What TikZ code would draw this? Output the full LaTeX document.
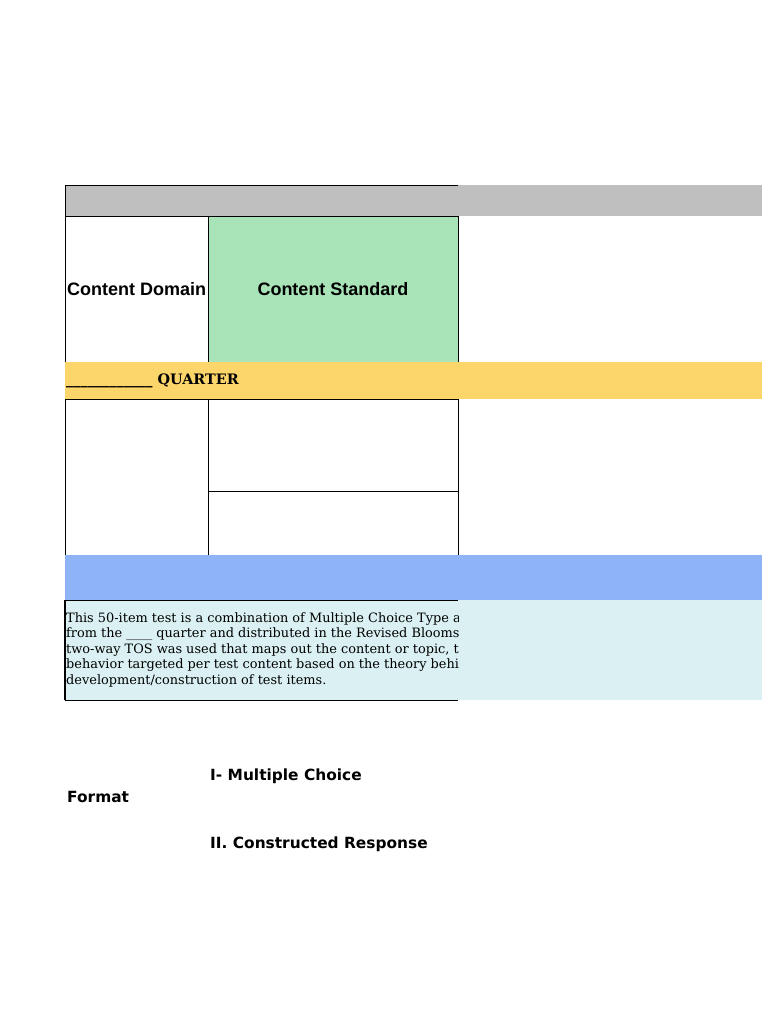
\documentclass[tikz,border=0pt]{standalone}
\usepackage{fontspec}
\setmainfont{DejaVu Serif}
\newfontfamily\arialf{Liberation Sans}
\newfontfamily\dvsans{DejaVu Sans}
\begin{document}
\begin{tikzpicture}[x=1pt,y=-1pt,
  cell/.style={draw=black,line width=0.8pt},
  lbl/.style={anchor=west,inner sep=0pt}]
\useasboundingbox (0,0) rectangle (768,1024);
\fill[white] (0,0) rectangle (768,1024);
\fill[gray!50] (65,185) rectangle (762,216);
\draw[black,line width=0.8pt] (458,185) -- (65,185) -- (65,216);
\fill[fill={rgb,255:red,168;green,228;blue,184}] (208,216) rectangle (458,362);
\draw[cell] (65,216) rectangle (208,362);
\draw[cell] (208,216) rectangle (458,362);
\node[lbl,font=\arialf\bfseries\fontsize{18}{20}\selectfont] (cd) at (67,289) {Content Domain};
\node[font=\arialf\bfseries\fontsize{18}{20}\selectfont] (cs) at (333,289) {Content Standard};
\fill[fill={rgb,255:red,252;green,213;blue,107}] (65,362) rectangle (762,399);
\node[lbl,font=\bfseries\fontsize{14.4}{16}\selectfont] (q) at (66,381) {\_\_\_\_\_\_\_\_\_\_\_\_ QUARTER};
\draw[cell] (65,399) rectangle (208,555);
\draw[cell] (208,399) rectangle (458,491);
\draw[cell] (208,491) rectangle (458,555);
\fill[fill={rgb,255:red,142;green,180;blue,247}] (65,555) rectangle (762,600);
\fill[fill={rgb,255:red,218;green,240;blue,242}] (65,600) rectangle (762,700);
\draw[black,line width=0.8pt] (458,600) -- (65,600);
\draw[black,line width=0.8pt] (65,700) -- (458,700);
\draw[black,line width=1.6pt] (65,600) -- (65,700);
\begin{scope}
\clip (65,600) rectangle (458,700);
\node[anchor=north west,inner sep=0pt,align=left,font=\fontsize{12.9}{15.5}\selectfont] (para) at (66,612) {This 50-item test is a combination of Multiple Choice Type and Constructed Response\\from the \_\_\_\_ quarter and distributed in the Revised Blooms Taxonomy. A\\two-way TOS was used that maps out the content or topic, test objectives and\\behavior targeted per test content based on the theory behind competencies in\\development/construction of test items.};
\end{scope}
\node[lbl,font=\dvsans\bfseries\fontsize{15.4}{17}\selectfont] (mc) at (210,776) {I- Multiple Choice};
\node[lbl,font=\dvsans\bfseries\fontsize{15.4}{17}\selectfont] (fm) at (67,797) {Format};
\node[lbl,font=\dvsans\bfseries\fontsize{15.4}{17}\selectfont] (cr) at (210,844) {II. Constructed Response};
\end{tikzpicture}
\end{document}
